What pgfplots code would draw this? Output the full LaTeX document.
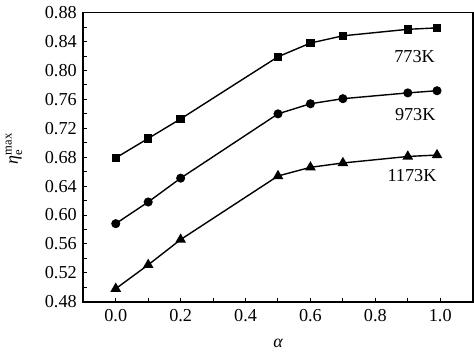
\documentclass[border=0pt]{standalone}
\usepackage{fontspec}
\setmainfont{Liberation Serif}
\usepackage{amsmath}
\usepackage{pgfplots}
\pgfplotsset{compat=1.18}
\begin{document}
\begin{tikzpicture}
\useasboundingbox (-83.3bp,-54.3bp) rectangle (390.7bp,301.7bp);
\begin{axis}[
  scale only axis,
  width=389.4bp, height=289bp,
  xmin=-0.1, xmax=1.1, ymin=0.48, ymax=0.88,
  xtick={0,0.2,...,1.0}, ytick={0.48,0.52,...,0.881},
  minor xtick={-0.1,0.1,0.3,0.5,0.7,0.9,1.1},
  minor ytick={0.50,0.54,...,0.87},
  tick pos=left, tick align=inside,
  major tick length=4bp, minor tick length=4bp,
  axis line style={line width=1.6bp},
  every tick/.style={black,line width=1bp},
  /pgf/number format/assume math mode=true,
  xticklabel style={/pgf/number format/fixed,/pgf/number format/fixed zerofill,/pgf/number format/precision=1,yshift=-4bp},
  yticklabel style={/pgf/number format/fixed,/pgf/number format/fixed zerofill,/pgf/number format/precision=2,xshift=-3bp},
  tick label style={font=\fontsize{18.3}{21}\selectfont},
  every axis x label/.style={at={(axis description cs:0.5,-0.143)},anchor=center},
  every axis y label/.style={at={(axis description cs:-0.178,0.53)},anchor=center,rotate=90},
  xlabel={\fontsize{18}{20}\selectfont\itshape α},
  ylabel={\fontsize{18}{20}\selectfont$\text{\itshape η}_{\text{e}}^{\text{max}}$},
  clip=false,
]
\addplot[black,line width=1.4bp,mark=square*,mark size=3.5bp] coordinates {
(0,0.679) (0.1,0.706) (0.2,0.733) (0.5,0.819) (0.6,0.838) (0.7,0.848) (0.9,0.857) (0.99,0.859)};
\addplot[black,line width=1.4bp,mark=*,mark size=3.8bp] coordinates {
(0,0.588) (0.1,0.618) (0.2,0.651) (0.5,0.740) (0.6,0.754) (0.7,0.761) (0.9,0.769) (0.99,0.772)};
\addplot[black,line width=1.4bp,mark=triangle*,mark size=4.8bp] coordinates {
(0,0.498) (0.1,0.531) (0.2,0.566) (0.5,0.654) (0.6,0.666) (0.7,0.672) (0.9,0.681) (0.99,0.683)};
\node[font=\fontsize{18.3}{21}\selectfont] at (axis cs:0.921,0.819) {773K};
\node[font=\fontsize{18.3}{21}\selectfont] at (axis cs:0.923,0.739) {973K};
\node[font=\fontsize{18.3}{21}\selectfont] at (axis cs:0.913,0.655) {1173K};
\end{axis}
\end{tikzpicture}
\end{document}
